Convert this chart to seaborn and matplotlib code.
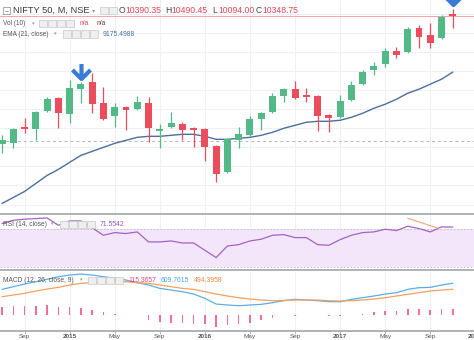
import numpy as np
import pandas as pd
import matplotlib
matplotlib.use("Agg")
import matplotlib.pyplot as plt
import seaborn as sns
from matplotlib.path import Path
from matplotlib.markers import MarkerStyle
from matplotlib.patches import Rectangle
from matplotlib.lines import Line2D

# ---------------- data ----------------
months = [str(p) for p in pd.period_range("2014-07", "2017-11", freq="M")]

opens = [7661, 7682, 8018, 7976, 8354, 8627, 8291, 8816, 8963, 8522,
         8249, 8438, 8396, 8522, 7934, 8018, 8081, 7997, 7976, 7619,
         7073, 7745, 7850, 8186, 8333, 8669, 8816, 8690, 8669, 8270,
         8228, 8585, 8921, 9215, 9341, 9614, 9593, 10097, 9950, 9887, 10390.35]
highs = [7850, 7997, 8207, 8354, 8648, 8648, 9005, 8963, 9152, 8858,
         8522, 8459, 8669, 8648, 8081, 8333, 8123, 8018, 7997, 7640,
         7787, 8018, 8249, 8333, 8732, 8837, 8984, 8837, 8690, 8291,
         8690, 8984, 9215, 9383, 9677, 9698, 10118, 10160, 10202, 10370, 10490.45]
lows = [7472, 7577, 7892, 7745, 8333, 7997, 8102, 8522, 8312, 8165,
        8018, 7955, 8375, 7703, 7577, 7997, 7745, 7598, 7304, 6863,
        7052, 7577, 7829, 7955, 8312, 8543, 8606, 8543, 7934, 7913,
        8207, 8564, 8900, 9110, 9278, 9467, 9572, 9677, 9677, 9866, 10094.00]
closes = [7745, 7976, 7976, 8333, 8606, 8312, 8837, 8921, 8501, 8186,
          8438, 8375, 8543, 7997, 7976, 8102, 7955, 7955, 7598, 7031,
          7766, 7871, 8186, 8312, 8669, 8816, 8627, 8648, 8249, 8207,
          8564, 8900, 9173, 9299, 9614, 9530, 10076, 9908, 9782, 10328, 10348.75]
ema21 = [6422, 6548, 6674, 6842, 7010, 7136, 7283, 7430, 7514, 7598,
         7682, 7745, 7808, 7829, 7829, 7850, 7871, 7871, 7829, 7766,
         7766, 7787, 7808, 7850, 7913, 7997, 8060, 8123, 8144, 8144,
         8165, 8228, 8312, 8417, 8501, 8606, 8732, 8816, 8921, 9026, 9175.4988]
rsi14 = [75.2, 78.6, 79.7, 80.4, 81.0, 73.4, 77.9, 77.9, 70.7, 63.0,
         65.8, 64.8, 66.5, 56.1, 56.1, 57.1, 55.0, 55.0, 47.4, 39.8,
         51.9, 53.3, 57.1, 58.9, 63.0, 63.7, 60.6, 60.6, 53.3, 52.6,
         58.5, 63.0, 65.8, 66.5, 69.3, 67.9, 72.4, 70.0, 66.5, 71.7, 71.5542]
macd_line = [493, 544, 595, 640, 685, 736, 768, 787, 768, 736,
             704, 672, 621, 576, 512, 480, 448, 403, 320, 211,
             192, 179, 192, 205, 237, 275, 301, 288, 275, 256,
             256, 301, 333, 365, 403, 429, 493, 525, 531, 576, 609.7615]
macd_signal = [352, 384, 416, 461, 499, 531, 576, 608, 621, 640,
               653, 640, 621, 608, 576, 544, 512, 493, 448, 403,
               365, 333, 307, 288, 275, 282, 288, 288, 288, 275,
               269, 275, 288, 307, 333, 365, 397, 429, 461, 480, 494.3958]
macd_hist = [160, 173, 173, 173, 192, 160, 160, 141, 96, 51,
             19, 3, 3, -96, -128, -147, -160, -173, -179, -237,
             -192, -179, -147, -96, -51, -3, -13, -6, -3, -19,
             -26, 3, 19, 51, 83, 83, 109, 109, 96, 109, 115.3657]

tick_months = ["2014-09", "2015-01", "2015-05", "2015-09", "2016-01", "2016-05",
               "2016-09", "2017-01", "2017-05", "2017-09", "2018-01"]
tick_labels = ["Sep", "2015", "May", "Sep", "2016", "May", "Sep", "2017", "May", "Sep", "2018"]
price_grid = [6400, 6800, 7200, 7600, 8000, 8400, 8800, 9200, 9600, 10000, 10400]
hline_price = 7740
arrow_months = ["2015-02", "2017-11"]
arrow_prices = [9204, 10738]
rsi_trend_x = [36.0, 38.7]
rsi_trend_y = [80.7, 70.3]

# ---------------- style ----------------
sns.set_theme(style="white")
plt.rcParams["font.family"] = ["Liberation Sans", "DejaVu Sans"]

UP, DOWN = "#53b987", "#eb4d5c"
GRID = "#eef0f4"
SEP = "#a8abb0"
TXT = "#4a4a4a"

W, H = 474, 340
fig = plt.figure(figsize=(W / 100, H / 100), dpi=100)
fig.patch.set_facecolor("white")


def fy(y):
    return 1 - y / H


ax = fig.add_axes([0, fy(213.5), 1, 213.5 / H])
ax_rsi = fig.add_axes([0, fy(270.3), 1, (270.3 - 214.5) / H])
ax_macd = fig.add_axes([0, fy(330.7), 1, (330.7 - 271.7) / H])

df = pd.DataFrame({"month": months, "open": opens, "high": highs, "low": lows,
                   "close": closes, "ema": ema21, "rsi": rsi14,
                   "macd": macd_line, "signal": macd_signal, "hist": macd_hist})
df["i"] = np.arange(len(df))
base = pd.Period(months[0], freq="M")
tick_pos = [(pd.Period(m, freq="M") - base).n for m in tick_months]

XL = (-0.18, 41.88)
for a in (ax, ax_rsi, ax_macd):
    a.set_xlim(*XL)
    a.set_facecolor("white")
    for p in tick_pos:
        a.axvline(p, color=GRID, lw=0.8, zorder=0)
    for s in ("top", "left", "right"):
        a.spines[s].set_visible(False)
    a.spines["bottom"].set_color(SEP)
    a.spines["bottom"].set_linewidth(1.3)
    a.tick_params(left=False, labelleft=False, bottom=False, labelbottom=False)

# ---------------- main panel ----------------
ax.set_ylim(6212, 10685)
for g in price_grid:
    ax.axhline(g, color=GRID, lw=0.8, zorder=0)
ax.axhline(hline_price, color="#b4b7bc", lw=0.7, ls=(0, (3, 3)), zorder=1)
ax.axhline(closes[-1], color="#f4a3ab", lw=0.7, zorder=1)

up = df["close"] >= df["open"]
cols = np.where(up, UP, DOWN)
ax.vlines(df["i"], df["low"], df["high"], colors=cols, lw=0.9, zorder=3)
body_lo = np.minimum(df["open"], df["close"])
body_h = np.maximum(np.abs(df["close"] - df["open"]), 18)
ax.bar(df["i"], body_h, bottom=body_lo, width=0.62, color=cols, zorder=4, linewidth=0)

sns.lineplot(data=df, x="i", y="ema", ax=ax, color="#4d6e9c", linewidth=1.0, zorder=2)

arrow_path = Path([(0, 7.5), (0, -7.5), (-9, 1.5), (0, -7.5), (9, 1.5)],
                  [Path.MOVETO, Path.LINETO, Path.MOVETO, Path.LINETO, Path.LINETO])
amark = MarkerStyle(arrow_path, joinstyle="miter", capstyle="butt")
ax_x = [(pd.Period(m, freq="M") - base).n for m in arrow_months]
ax.plot(ax_x, arrow_prices, ls="none", marker=amark, markersize=13,
        mfc="none", mec="#3a7bd5", mew=3.0, clip_on=False, zorder=6)

# ---------------- RSI panel ----------------
ax_rsi.set_ylim(26.6, 84.6)
ax_rsi.axhspan(30, 70, color="#f3e6fa", zorder=0.5, lw=0)
ax_rsi.axhline(70, color="#b9b9c9", lw=0.6, ls=(0, (2, 2)), zorder=1)
ax_rsi.axhline(30, color="#b9b9c9", lw=0.6, ls=(0, (2, 2)), zorder=1)
sns.lineplot(data=df, x="i", y="rsi", ax=ax_rsi, color="#a462c4", linewidth=0.9, zorder=3)
ax_rsi.plot(rsi_trend_x, rsi_trend_y, color="#f2a27a", lw=0.8, zorder=3)

# ---------------- MACD panel ----------------
ax_macd.set_ylim(-301, 832)
ax_macd.bar(df["i"], df["hist"], width=0.14, color="#ee6f9f", linewidth=0, zorder=2)
sns.lineplot(data=df, x="i", y="macd", ax=ax_macd, color="#5aaee8", linewidth=0.9, zorder=3)
sns.lineplot(data=df, x="i", y="signal", ax=ax_macd, color="#f5a05e", linewidth=0.9, zorder=3)

for a in (ax, ax_rsi, ax_macd):
    a.set_xlabel("")
    a.set_ylabel("")

# x tick labels / marks
ax_macd.set_xticks([p for p in tick_pos if p <= XL[1]])
ax_macd.tick_params(bottom=True, length=2, width=0.6, color=SEP, labelbottom=False)
for p, lab in zip(tick_pos, tick_labels):
    bold = lab.isdigit()
    ax_macd.text(p, -0.06, lab, transform=ax_macd.get_xaxis_transform(),
                 ha="center", va="top", fontsize=4.6, color="#555555",
                 fontweight="bold" if bold else "normal", clip_on=False)

# ---------------- legends / header ----------------
def ftext(x, y, s, size, color=TXT, **kw):
    fig.text(x / W, fy(y), s, fontsize=size, color=color, ha="left", va="center", **kw)


def boxes(x0, y, n, w=8, h=7):
    for k in range(n):
        fig.add_artist(Rectangle(((x0 + k * (w + 1)) / W, fy(y + h / 2)), w / W, h / H,
                                 transform=fig.transFigure, facecolor="#efefef",
                                 edgecolor="#c8c8c8", lw=0.5))


# collapse icon
fig.add_artist(Rectangle((3 / W, fy(14)), 7 / W, 7 / H, transform=fig.transFigure,
                         facecolor="white", edgecolor="#9a9a9a", lw=0.6))
fig.add_artist(Line2D([4.8 / W, 8.2 / W], [fy(10.5), fy(10.5)], transform=fig.transFigure,
                      color="#9a9a9a", lw=0.6))
ftext(13, 10.7, "NIFTY 50, M, NSE", 6.7, "#3a3a3a")
ftext(92, 10.7, "▾", 4.5, "#999999")
boxes(100, 10.7, 2)
RED = "#e0455a"
for lx, vx, L, v in [(119, 125, "O", "10390.35"), (165, 171, "H", "10490.45"),
                     (212, 218, "L", "10094.00"), (256, 262, "C", "10348.75")]:
    ftext(lx, 10.7, L, 6.2, "#444444")
    ftext(vx, 10.7, v, 6.2, RED)

ftext(3, 23.3, "Vol (10)", 4.7, "#555555")
ftext(32, 23.3, "▾", 3.8, "#999999")
boxes(39, 23.3, 4)
ftext(80, 23.3, "n/a", 4.9, RED)
ftext(97, 23.3, "n/a", 4.9, "#6a3a44")

ftext(3, 34, "EMA (21, close)", 4.7, "#555555")
ftext(54, 34, "▾", 3.8, "#999999")
boxes(63, 34, 4)
ftext(103, 34, "9175.4988", 4.9, "#4a6fa5")

ftext(3, 224, "RSI (14, close)", 4.8, "#555555")
ftext(51, 224, "▾", 3.8, "#999999")
boxes(60, 224, 4)
ftext(100, 224, "71.5542", 4.9, "#9c4fb5")

ftext(3, 280, "MACD (12, 26, close, 9)", 4.8, "#555555")
ftext(80, 280, "▾", 3.8, "#999999")
boxes(88, 280, 4)
ftext(128, 280, "115.3657", 4.9, "#e0457a")
ftext(161, 280, "609.7615", 4.9, "#4aa3df")
ftext(194, 280, "494.3958", 4.9, "#f08a3c")

fig.savefig("out.png", dpi=100, facecolor="white")
